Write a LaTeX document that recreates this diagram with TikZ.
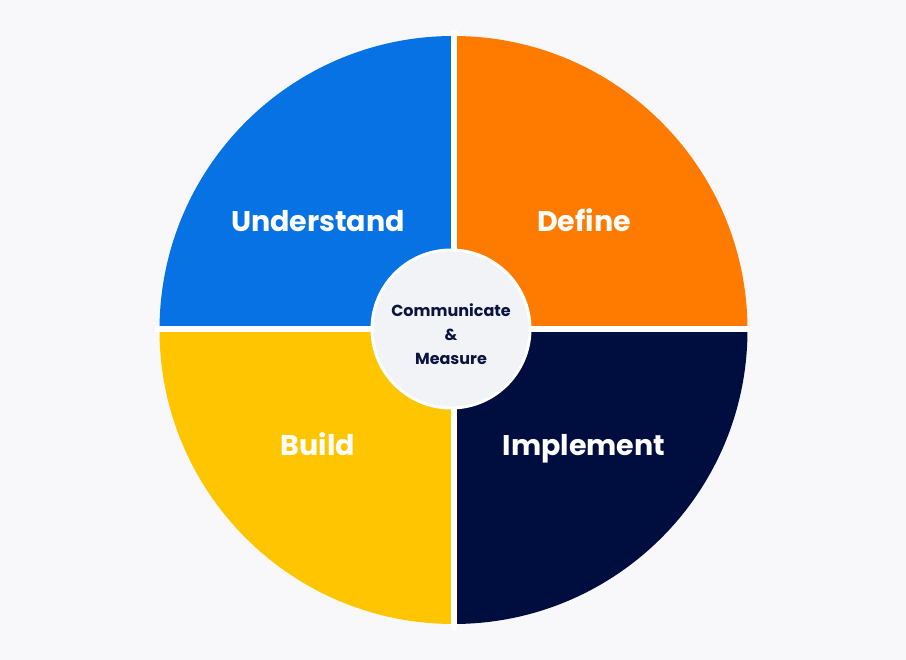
\documentclass[tikz,border=0pt]{standalone}
\usepackage{fontspec}
\setmainfont{Poppins}
\definecolor{bgcol}{HTML}{F8F8FA}
\definecolor{ublue}{HTML}{0772E4}
\definecolor{dorange}{HTML}{FF7B00}
\definecolor{byellow}{HTML}{FFC600}
\definecolor{inavy}{HTML}{000E3F}
\definecolor{cgray}{HTML}{F2F3F6}
\definecolor{ctext}{HTML}{0B1340}
\tikzset{
  quadlabel/.style={text=white,anchor=base,font=\bfseries\fontsize{28.5}{30}\selectfont},
  hubdisc/.style={circle,fill=cgray,draw=white,line width=3pt,minimum size=158pt,inner sep=0pt},
  hublabel/.style={align=center,text=ctext,font=\bfseries\fontsize{16}{24}\selectfont},
  gap/.style={white,line width=6pt}
}
\begin{document}
\begin{tikzpicture}[x=1pt,y=-1pt]
  \fill [bgcol] (0,0) rectangle (906,660);
  \useasboundingbox (0,0) rectangle (906,660);
  \coordinate (C) at (453.5,330);
  \fill [ublue] (C) -- (159.5,330) arc (180:270:294) -- cycle;
  \fill [dorange] (C) -- (747.5,330) arc (0:-90:294) -- cycle;
  \fill [byellow] (C) -- (159.5,330) arc (180:90:294) -- cycle;
  \fill [inavy] (C) -- (747.5,330) arc (0:90:294) -- cycle;
  % white gaps between the quadrants
  \coordinate (T) at (453.5,30);
  \coordinate (B) at (453.5,630);
  \coordinate (L) at (155,329.5);
  \coordinate (R) at (752,329.5);
  \draw [gap] (T) -- (B);
  \draw [gap] (L) -- (R);
  \node [quadlabel] (understand) at (318,232) {Understand};
  \node [quadlabel] (define) at (584,232) {Define};
  \node [quadlabel] (build) at (318,456) {Build};
  \node [quadlabel] (implement) at (584,456) {Implement};
  \node [hubdisc] (hub) at (451,329) {};
  \node [hublabel] (hubtext) at (451,334) {Communicate\\\&\\Measure};
\end{tikzpicture}
\end{document}
